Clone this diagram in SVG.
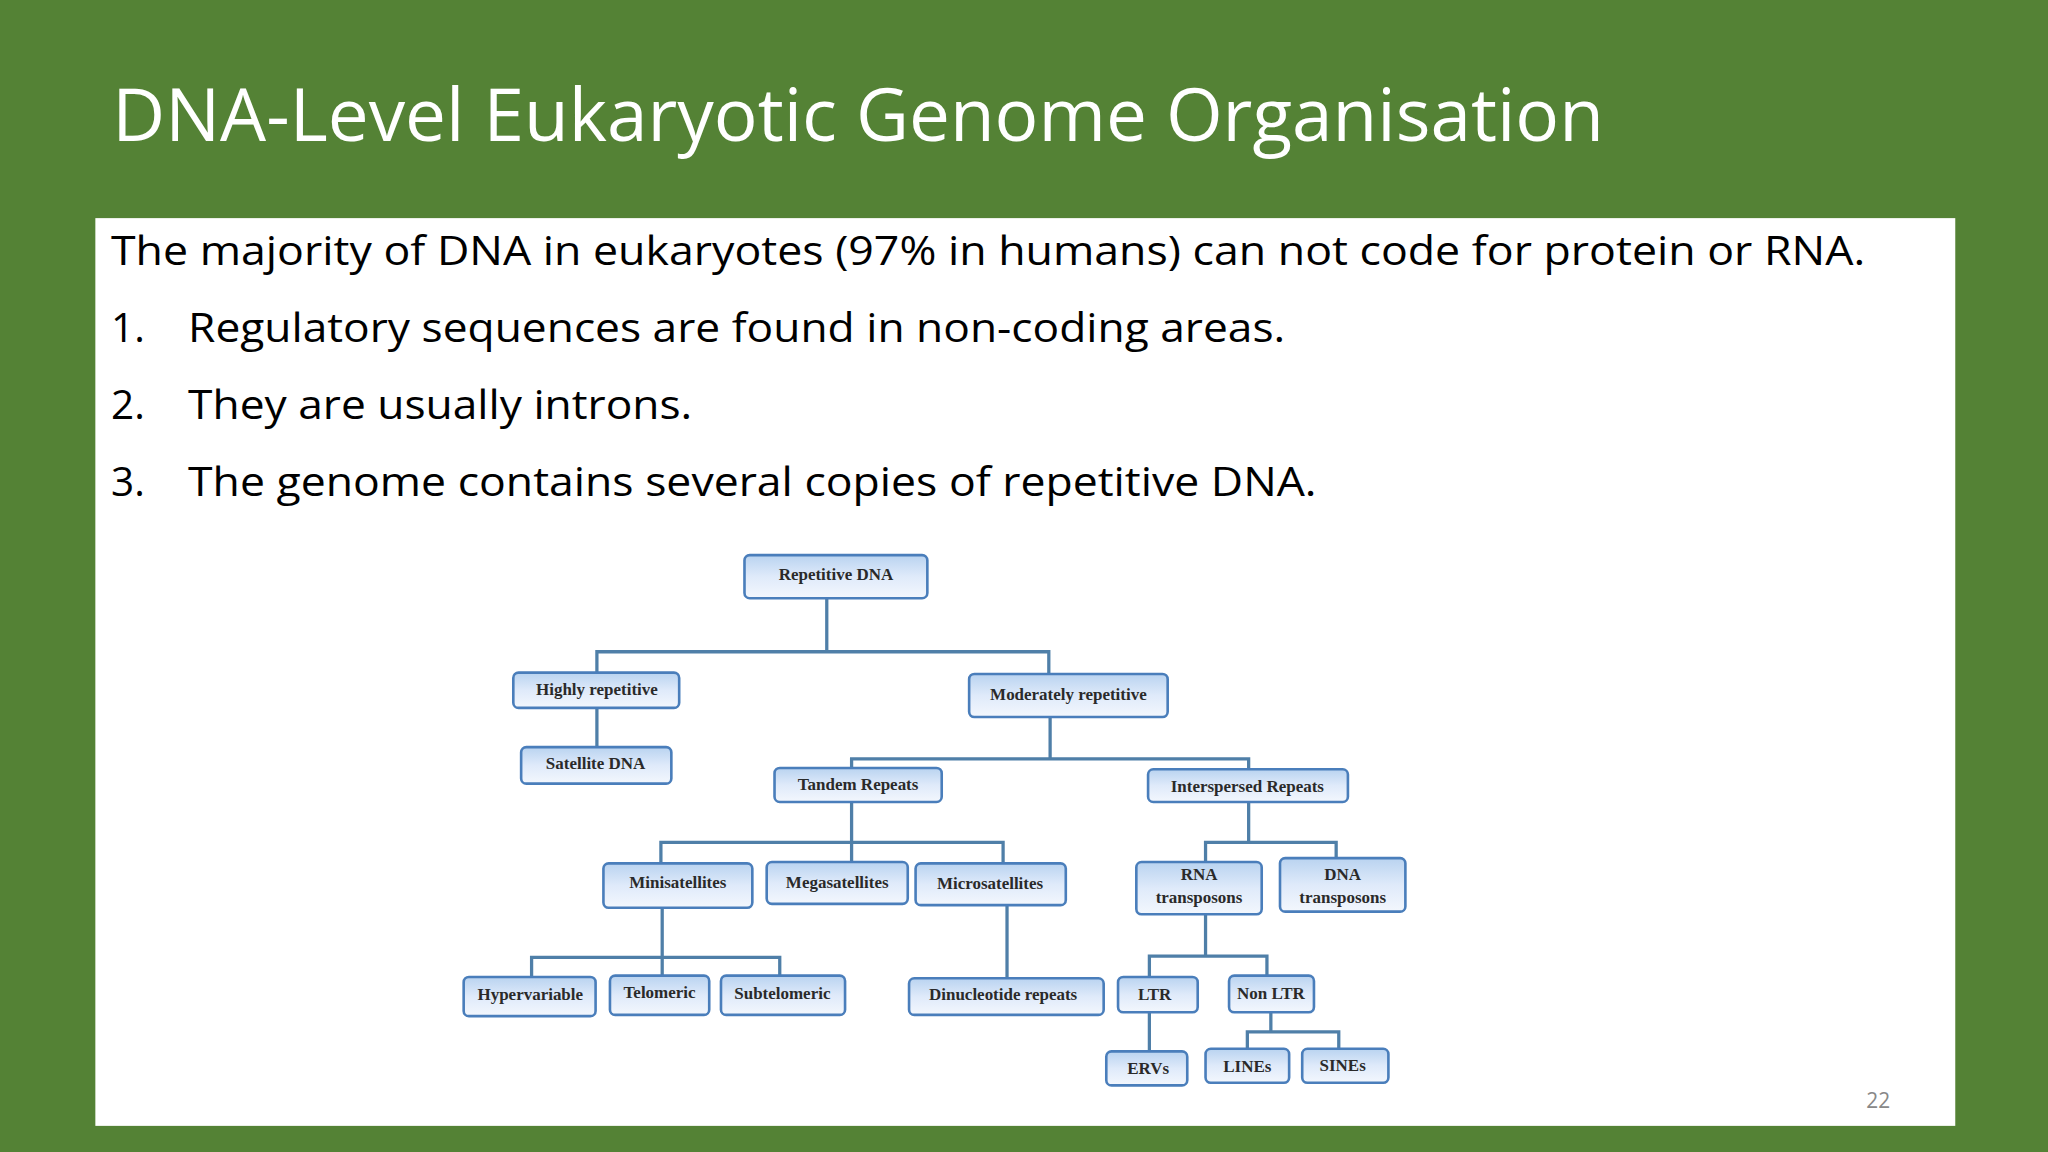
<svg xmlns="http://www.w3.org/2000/svg" width="2048" height="1152" viewBox="0 0 2048 1152">
<defs>
<linearGradient id="g" x1="0" y1="0" x2="0" y2="1"><stop offset="0" stop-color="#b9d3f0"/><stop offset="0.5" stop-color="#dfeafa"/><stop offset="1" stop-color="#f3f7fd"/></linearGradient>
<style>
.n rect{fill:url(#g);stroke:#4a7ebb;stroke-width:2}
.n text{font-family:"Liberation Serif",serif;font-size:13px;font-weight:bold;fill:#2a2a2a;text-anchor:middle}
.c path{fill:none;stroke:#4f7fa8;stroke-width:2.5}
.b{font-family:"Open Sans","Liberation Sans",sans-serif;font-size:31px;fill:#000}
</style>
</defs>
<rect width="2048" height="1152" fill="#548235"/>
<g transform="scale(1.30612)">
<rect x="73" y="167" width="1424" height="695" fill="#fff"/>
<text x="86" y="108" font-family="Open Sans, Liberation Sans, sans-serif" font-size="56" fill="#fff" textLength="1142" lengthAdjust="spacingAndGlyphs">DNA-Level Eukaryotic Genome Organisation</text>
<text class="b" x="85" y="203" textLength="1343" lengthAdjust="spacingAndGlyphs">The majority of DNA in eukaryotes (97% in humans) can not code for protein or RNA.</text>
<text class="b" x="85" y="262">1.</text><text class="b" x="144" y="262" textLength="840" lengthAdjust="spacingAndGlyphs">Regulatory sequences are found in non-coding areas.</text>
<text class="b" x="85" y="321">2.</text><text class="b" x="144" y="321" textLength="386" lengthAdjust="spacingAndGlyphs">They are usually introns.</text>
<text class="b" x="85" y="380">3.</text><text class="b" x="144" y="380" textLength="864" lengthAdjust="spacingAndGlyphs">The genome contains several copies of repetitive DNA.</text>
<text x="1438" y="848" font-family="Open Sans, Liberation Sans, sans-serif" font-size="16" fill="#888" text-anchor="middle">22</text>
<g class="c">
<path d="M633 458V499M457 515V499H803V516"/>
<path d="M457 542V572"/>
<path d="M804 549V581M652 588V581H956V589"/>
<path d="M652 614V645M506 661V645H768V661M652 645V660"/>
<path d="M507 695V733M407 748V733H597V747M507 733V747"/>
<path d="M771 693V749"/>
<path d="M956 614V645M923 660V645H1023V657"/>
<path d="M923 700V732M880 748V732H970V747"/>
<path d="M880 775V805"/>
<path d="M973 775V790M955 803V790H1025V803"/>
</g>
<g id="n1" class="n"><rect x="570" y="425" width="140" height="33" rx="4"/><text x="640" y="444">Repetitive DNA</text></g>
<g id="n2" class="n"><rect x="393" y="515" width="127" height="27" rx="4"/><text x="457" y="532">Highly repetitive</text></g>
<g id="n3" class="n"><rect x="399" y="572" width="115" height="28" rx="4"/><text x="456" y="589">Satellite DNA</text></g>
<g id="n4" class="n"><rect x="742" y="516" width="152" height="33" rx="4"/><text x="818" y="536">Moderately repetitive</text></g>
<g id="n5" class="n"><rect x="593" y="588" width="128" height="26" rx="4"/><text x="657" y="605">Tandem Repeats</text></g>
<g id="n6" class="n"><rect x="879" y="589" width="153" height="25" rx="4"/><text x="955" y="606">Interspersed Repeats</text></g>
<g id="n7" class="n"><rect x="462" y="661" width="114" height="34" rx="4"/><text x="519" y="680">Minisatellites</text></g>
<g id="n8" class="n"><rect x="587" y="660" width="108" height="32" rx="4"/><text x="641" y="680">Megasatellites</text></g>
<g id="n9" class="n"><rect x="701" y="661" width="115" height="32" rx="4"/><text x="758" y="681">Microsatellites</text></g>
<g id="n10" class="n"><rect x="870" y="660" width="96" height="40" rx="4"/><text x="918" y="674">RNA</text><text x="918" y="691">transposons</text></g>
<g id="n11" class="n"><rect x="980" y="657" width="96" height="41" rx="4"/><text x="1028" y="674">DNA</text><text x="1028" y="691">transposons</text></g>
<g id="n12" class="n"><rect x="355" y="748" width="101" height="30" rx="4"/><text x="406" y="766">Hypervariable</text></g>
<g id="n13" class="n"><rect x="467" y="747" width="76" height="30" rx="4"/><text x="505" y="764">Telomeric</text></g>
<g id="n14" class="n"><rect x="552" y="747" width="95" height="30" rx="4"/><text x="599" y="765">Subtelomeric</text></g>
<g id="n15" class="n"><rect x="696" y="749" width="149" height="28" rx="4"/><text x="768" y="766">Dinucleotide repeats</text></g>
<g id="n16" class="n"><rect x="856" y="748" width="61" height="27" rx="4"/><text x="884" y="766">LTR</text></g>
<g id="n17" class="n"><rect x="941" y="747" width="65" height="28" rx="4"/><text x="973" y="765">Non LTR</text></g>
<g id="n18" class="n"><rect x="847" y="805" width="62" height="26" rx="4"/><text x="879" y="822">ERVs</text></g>
<g id="n19" class="n"><rect x="923" y="803" width="64" height="26" rx="4"/><text x="955" y="821">LINEs</text></g>
<g id="n20" class="n"><rect x="997" y="803" width="66" height="26" rx="4"/><text x="1028" y="820">SINEs</text></g>
</g>
</svg>
